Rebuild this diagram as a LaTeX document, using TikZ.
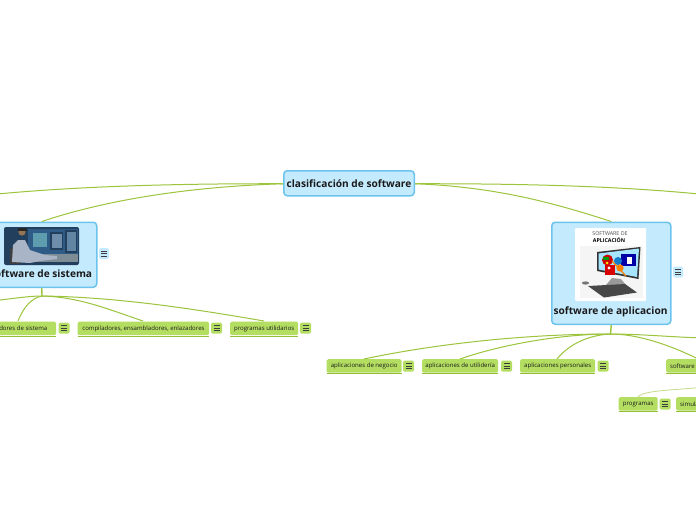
\documentclass[tikz,border=0pt]{standalone}
\usepackage{fontspec}
\setmainfont{Open Sans}
\definecolor{nodeblue}{HTML}{C4EAFD}
\definecolor{edgeblue}{HTML}{6CC4EE}
\definecolor{leafgreen}{HTML}{B4DE62}
\definecolor{leafline}{HTML}{93BE3A}
\definecolor{wire}{HTML}{9CC43C}
\definecolor{inkc}{HTML}{1A1A1A}
\definecolor{picnavy}{HTML}{22405E}
\definecolor{picteal}{HTML}{5E9CB0}
\definecolor{picblue}{HTML}{2E5C86}
\definecolor{picshirt}{HTML}{A9B4C6}
\definecolor{picdesk}{HTML}{7E8C96}
\tikzset{
 topic/.style={draw=edgeblue,fill=nodeblue,line width=1.5pt,rounded corners=3.5pt,inner sep=0pt,anchor=north west},
 toptext/.style={font=\bfseries\fontsize{10.15}{12}\selectfont,text=inkc,inner sep=0pt},
 leaf/.style={fill=leafgreen,rounded corners=1.5pt,inner sep=0pt,anchor=north west},
 leaftext/.style={font=\fontsize{6.05}{7}\selectfont,text=inkc,inner sep=0pt},
 wirec/.style={draw=wire,line width=1pt},
 stem/.style={draw=wire,line width=1.4pt},
 menuG/.style={fill=leafgreen,rounded corners=1.5pt,minimum width=11pt,minimum height=11pt,inner sep=0pt},
 menuB/.style={fill=nodeblue,rounded corners=1.5pt,minimum width=10pt,minimum height=11pt,inner sep=0pt},
 bar/.style={draw=inkc!85,line width=0.7pt},
}
\newcommand{\menuicon}[3]{\node[#1] (#2) at #3 {};
 \draw[bar] ([xshift=-3pt,yshift=2.5pt]#2.center) -- ([xshift=3pt,yshift=2.5pt]#2.center);
 \draw[bar] ([xshift=-3pt]#2.center) -- ([xshift=3pt]#2.center);
 \draw[bar] ([xshift=-3pt,yshift=-2.5pt]#2.center) -- ([xshift=3pt,yshift=-2.5pt]#2.center);}
\newcommand{\leafbox}[5]{% name, x, y, w, text
 \node[leaf,minimum width=#4pt,minimum height=13.5pt] (#1) at (#2,#3) {};
 \draw[leafline,line width=0.9pt] ([yshift=-1pt]#1.south west) -- ([yshift=-1pt]#1.south east);
 \node[leaftext,anchor=base] (#1t) at ([yshift=-2pt]#1.center) {#5};}
\begin{document}
\begin{tikzpicture}[x=1pt,y=-1pt]
\useasboundingbox (0,0) rectangle (696,520);
\clip (0,0) rectangle (696,520);
\fill[white] (0,0) rectangle (696,520);
% free ends beyond the page
\coordinate (offL) at (-8,194.5);
\coordinate (offR) at (704,194.5);
\coordinate (offSL) at (-8,301);
\coordinate (offAR) at (704,338);
\coordinate (hubS) at (42,296);
\coordinate (hubA) at (610.5,334);
\coordinate (hubSoft) at (704,387);
% topics
\node[topic,minimum width=130.5pt,minimum height=25pt] (root) at (283,170) {};
\node[toptext] (roott) at (root.center) {clasificación de software};
\node[topic,minimum width=110pt,minimum height=65pt] (sis) at (-14,221.5) {};
\node[topic,minimum width=119pt,minimum height=102pt] (apl) at (551,221.5) {};
% leaves
\leafbox{admin}{-40}{321.5}{96}{administradores de sistema}
\leafbox{comp}{77.5}{321.5}{131.5}{compiladores, ensambladores, enlazadores}
\leafbox{prog}{230}{321.5}{68}{programas utilidarios}
\leafbox{neg}{326.5}{359}{75}{aplicaciones de negocio}
\leafbox{uti}{422}{359}{76}{aplicaciones de utilidería}
\leafbox{per}{520}{359}{75}{aplicaciones personales}
\node[leaf,minimum width=70pt,minimum height=13.5pt] (sof) at (666,359) {};
\draw[leafline,line width=0.9pt] ([yshift=-1pt]sof.south west) -- ([yshift=-1pt]sof.south east);
\node[leaftext,anchor=base west] (soft) at (670,368) {software};
\node[leaf,minimum width=39pt,minimum height=13.5pt] (pro) at (618.5,397) {};
\draw[leafline,line width=0.9pt] ([yshift=-1pt]pro.south west) -- ([yshift=-1pt]pro.south east);
\node[leaftext,anchor=base] (prot) at ([yshift=-2pt]pro.center) {programas};
\node[leaf,minimum width=50pt,minimum height=13.5pt] (sim) at (676,397) {};
\draw[leafline,line width=0.9pt] ([yshift=-1pt]sim.south west) -- ([yshift=-1pt]sim.south east);
\node[leaftext,anchor=base west] (simt) at (680,406) {simula};
% connectors
\draw[wirec] (root.west) ++(0,0.5) coordinate (rw) (rw) .. controls (180,183.5) and (80,186) .. (offL);
\draw[wirec] (rw) .. controls (180,187) and (100,202) .. (sis.north);
\draw[wirec] (root.east) ++(0,0.5) coordinate (re) (re) .. controls (520,183.5) and (620,186) .. (offR);
\draw[wirec] (re) .. controls (500,187) and (560,205) .. (apl.north);
\draw[stem] (sis.south) -- (hubS);
\draw[stem] (apl.south) -- (hubA);
\draw[wirec] (hubS) .. controls (28,296) and (10,299) .. (offSL);
\draw[wirec] (hubS) .. controls (32,298) and (24,306) .. (18,321);
\draw[wirec] (hubS) .. controls (80,297) and (110,310) .. (143,321);
\draw[wirec] (hubS) .. controls (120,297) and (200,310) .. (264,321);
\draw[wirec] (hubA) .. controls (520,334) and (430,345) .. (364,359);
\draw[wirec] (hubA) .. controls (560,334) and (500,345) .. (460,359);
\draw[wirec] (hubA) .. controls (590,335) and (570,343) .. (557,359);
\draw[wirec] (hubA) .. controls (640,334) and (675,347) .. (702,361);
\draw[wirec] (hubA) .. controls (640,334) and (670,337) .. (offAR);
\draw[draw=wire!60,line width=0.8pt] (hubSoft) .. controls (680,390) and (642,390) .. (638,397);
% images (drawn)
\begin{scope}
\fill[rounded corners=2pt,fill=picnavy] (4,227) rectangle (79,265);
\fill[picblue] (28,229) rectangle (78,254);
\fill[picteal] (33,233) rectangle (47,247);
\fill[picnavy] (50,232) rectangle (63,250);
\fill[picblue!70!white] (51.5,234) rectangle (61.5,248);
\fill[picnavy] (65,230) rectangle (77,253);
\fill[picblue!75!white] (66.5,232) rectangle (75.5,251);
\fill[picdesk] (30,254) rectangle (78,262);
\fill[black!75] (10,248) rectangle (20,264);
\fill[picshirt] (12,262) -- (13,245) -- (18,240) -- (25,240) -- (30,250) -- (45,255) -- (57,256) -- (57,259) -- (40,261) -- (30,263) -- cycle;
\fill[brown!65!black!80!white] (22,232) circle[radius=3.6];
\fill[black!85] (17.5,228) rectangle (26.5,231);
\end{scope}
\begin{scope}
\fill[white,rounded corners=1pt] (575,228) rectangle (646,301);
\node[inner sep=0pt,text=black!70,font=\fontsize{5.3}{6}\selectfont] (imgt1) at (610,233.5) {SOFTWARE DE};
\node[inner sep=0pt,text=black,font=\bfseries\fontsize{5.3}{6}\selectfont] (imgt2) at (609,240) {APLICACIÓN};
\fill[black!4] (580,246) rectangle (643,298);
\fill[black!80] (597,252) -- (640.5,247) -- (638.5,279) -- (597,271) -- cycle;
\fill[blue!30!cyan!35!white] (598.5,253.5) -- (639,248.5) -- (637,277) -- (598.5,269.5) -- cycle;
\fill[red!80!black] (607.5,260) circle[radius=5.5];
\fill[green!60!black] (603,257) rectangle (609,260);
\fill[yellow!90!orange] (607,263) circle[radius=1.5];
\fill[blue!65!black] (621,254) rectangle (636,266);
\fill[cyan!60!blue] (618,261) circle[radius=4];
\fill[white] (627,257) rectangle (632,264);
\fill[red!85!black] (605,265) rectangle (615,275);
\fill[white] (609,268) circle[radius=1.6];
\fill[orange] (620,268) circle[radius=3.6];
\draw[orange,line width=1.2pt] (612,261) -- (626,276);
\fill[black!40] (612,278) -- (621,279) -- (626,285) -- (606,285) -- cycle;
\fill[black!72] (588,286) -- (625,284) -- (637,292.5) -- (604,297.5) -- cycle;
\fill[black!55] (585.5,283) ellipse[x radius=3.5,y radius=1.6];
\end{scope}
% topic titles
\node[toptext,anchor=base] (sist) at (41,277.5) {software de sistema};
\node[toptext,anchor=base] (aplt) at (610.5,314) {software de aplicacion};
% menu icons
\menuicon{menuB}{m1}{(104,253.5)}
\menuicon{menuB}{m2}{(678,272)}
\menuicon{menuG}{m3}{(64,328)}
\menuicon{menuG}{m4}{(216.5,328)}
\menuicon{menuG}{m5}{(305.5,328)}
\menuicon{menuG}{m6}{(408.5,366)}
\menuicon{menuG}{m7}{(506.5,366)}
\menuicon{menuG}{m8}{(603,366)}
\menuicon{menuG}{m9}{(665,404)}
\end{tikzpicture}
\end{document}
